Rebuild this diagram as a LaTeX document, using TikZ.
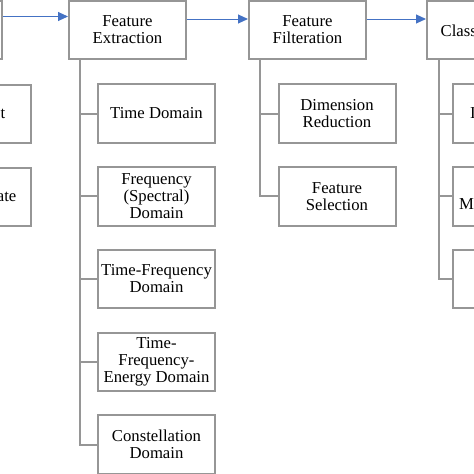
\documentclass[tikz,border=0pt]{standalone}
\usepackage{fontspec}
\setmainfont{Liberation Serif}
\usetikzlibrary{arrows.meta,positioning}

\definecolor{boxgray}{RGB}{150,150,150}
\definecolor{flowblue}{RGB}{68,114,196}

\begin{document}
\begin{tikzpicture}[x=1pt,y=-1pt,
    node distance=22.25pt,
    stage/.style={rectangle, draw=boxgray, line width=2pt, minimum width=117pt, minimum height=58pt, align=center, text centered, font=\fontsize{16.7}{17}\selectfont},
    method/.style={stage, minimum height=58.5pt},
    cut/.style={inner sep=0pt, font=\fontsize{16.7}{17}\selectfont},
    link/.style={draw=boxgray, line width=2pt},
    flow/.style={-{Triangle[length=10pt,width=9pt]}, draw=flowblue, line width=1pt}
]
\useasboundingbox (0,0) rectangle (474,474);
\clip (0,0) rectangle (474,474);

% Main stages
\node[stage] (prep) at (-56.5,30) {};
\node[stage] (extract) at (127.5,30) {Feature\\Extraction};
\node[stage] (filter) at (307.5,30) {Feature\\Filteration};
\node[stage] (classify) at (485.5,30) {};

% Stage before extraction (cut off)
\node[method] (prep1) at (-27.5,114) {};
\node[method, below=of prep1] (prep2) {};

% Feature extraction methods
\node[method] (time) at (156.5,113.5) {Time Domain};
\node[method, below=of time] (freq) {Frequency\\(Spectral)\\Domain};
\node[method, below=of freq] (tf) {Time-Frequency\\Domain};
\node[method, below=of tf] (tfe) {Time-\\Frequency-\\Energy Domain};
\node[method, below=of tfe] (const) {Constellation\\Domain};

% Feature filteration methods
\node[method] (dimred) at (337,113.5) {Dimension\\Reduction};
\node[method, below=of dimred] (select) {Feature\\Selection};

% Classification methods (cut off)
\node[method] (cls1) at (511.5,113.5) {};
\node[method, below=of cls1] (cls2) {};
\node[method, below=of cls2] (cls3) {};

% Visible pieces of the cut-off texts
\node[cut, anchor=east] (prep1txt) at (5.5,114) {t};
\node[cut, anchor=east] (prep2txt) at (16.5,197.3) {ate};
\node[cut, anchor=west] (classifytxt) at (440.5,30.5) {Class};
\node[cut, anchor=west] (cls1txt) at (470,113) {I};
\node[cut, anchor=west] (cls2txt) at (459,204.5) {M};

% Flow between stages
\draw[flow] ([yshift=13.5pt]prep.east) -- ([yshift=13.5pt]extract.west);
\draw[flow] ([yshift=11pt]extract.east) -- ([yshift=11pt]filter.west);
\draw[flow] ([yshift=11pt]filter.east) -- ([yshift=11pt]classify.west);

% Tree lines
\draw[link] ([xshift=12pt]extract.south west) |- (time.west);
\draw[link] ([xshift=12pt]extract.south west) |- (freq.west);
\draw[link] ([xshift=12pt]extract.south west) |- (tf.west);
\draw[link] ([xshift=12pt]extract.south west) |- (tfe.west);
\draw[link] ([xshift=12pt]extract.south west) |- (const.west);
\draw[link] ([xshift=12pt]filter.south west) |- (dimred.west);
\draw[link] ([xshift=12pt]filter.south west) |- (select.west);
\draw[link] ([xshift=12.5pt]classify.south west) |- (cls1.west);
\draw[link] ([xshift=12.5pt]classify.south west) |- (cls2.west);
\draw[link] ([xshift=12.5pt]classify.south west) |- (cls3.west);

\end{tikzpicture}
\end{document}
